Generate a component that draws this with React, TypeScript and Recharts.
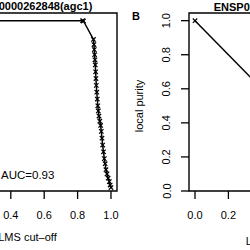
import React from 'react';
import { LineChart, Line, XAxis, YAxis, ReferenceArea } from 'recharts';

const font = '"Liberation Sans", Arial, Helvetica, sans-serif';

// panel A: fraction kept vs LMS cut-off
const leftCutoffs = [0.0, 0.83, 0.835, 0.895, 0.898, 0.9, 0.902, 0.904, 0.906, 0.908, 0.91, 0.912, 0.915, 0.918, 0.921, 0.924, 0.928, 0.933, 0.938, 0.942, 0.946, 0.95, 0.955, 0.96, 0.965, 0.97, 0.976, 0.983, 0.99, 0.995, 1.0];
const leftValues = [1.0, 1.0, 0.998, 0.89, 0.86, 0.83, 0.8, 0.77, 0.74, 0.7, 0.66, 0.62, 0.58, 0.54, 0.5, 0.47, 0.44, 0.41, 0.385, 0.35, 0.31, 0.27, 0.23, 0.19, 0.16, 0.125, 0.1, 0.075, 0.055, 0.035, 0.02];

// panel B: local purity vs LMS cut-off
const rightCutoffs = [0.0, 1.0];
const rightPurity = [1.0, 0.0];

const xTicks = [0, 0.2, 0.4, 0.6, 0.8, 1.0];
const yTicks = [0, 0.2, 0.4, 0.6, 0.8, 1.0];

const leftData = leftCutoffs.map((c, i) => ({ cutoff: c, value: leftValues[i] }));
const rightData = rightCutoffs.map((c, i) => ({ cutoff: c, value: rightPurity[i] }));

const xDomain = [-0.036, 1.036];
const yDomain = [0, 1.045];

const cross = (p: any) => {
  const { cx, cy, index } = p;
  if (cx == null || cy == null) return <g key={index} />;
  const s = 2.2;
  return (
    <path
      key={index}
      d={`M${cx - s},${cy - s}L${cx + s},${cy + s}M${cx - s},${cy + s}L${cx + s},${cy - s}`}
      stroke="#000"
      strokeWidth={1.2}
      fill="none"
    />
  );
};

const RotTick = (props: any) => {
  const { x, y, payload } = props;
  return (
    <text x={x} y={y} transform={`rotate(-90 ${x} ${y})`} textAnchor="middle" fontSize={11} fill="#000" fontFamily={font}>
      {Number(payload.value).toFixed(1)}
    </text>
  );
};

const xAxisProps = {
  dataKey: 'cutoff',
  type: 'number' as const,
  domain: xDomain,
  ticks: xTicks,
  interval: 0 as const,
  allowDataOverflow: true,
  height: 59,
  axisLine: false,
  tickLine: { stroke: '#000', strokeWidth: 1.3 },
  tickSize: 8,
  tickMargin: 12,
  tick: { fontSize: 11, fill: '#000', fontFamily: font },
  tickFormatter: (v: number) => v.toFixed(1),
};

const box = (
  <ReferenceArea x1={xDomain[0]} x2={xDomain[1]} y1={yDomain[0]} y2={yDomain[1]} fill="none" fillOpacity={0} stroke="#000" strokeWidth={1.4} ifOverflow="visible" />
);

export default function App() {
  return (
    <div style={{ position: 'fixed', left: 0, top: 0, width: 250, height: 250, overflow: 'hidden', background: '#fff' }}>
      <div style={{ position: 'absolute', left: -62, top: 0 }}>
        <LineChart width={190} height={250} data={leftData} margin={{ top: 13, right: 11, bottom: 0, left: 0 }}>
          <XAxis {...xAxisProps} />
          <YAxis type="number" domain={yDomain} allowDataOverflow hide />
          {box}
          <Line dataKey="value" stroke="#000" strokeWidth={1.5} dot={cross} isAnimationActive={false} />
        </LineChart>
      </div>
      <div style={{ position: 'absolute', left: 125, top: 0 }}>
        <LineChart width={254} height={250} data={rightData} margin={{ top: 13, right: 11, bottom: 0, left: 0 }}>
          <XAxis {...xAxisProps} />
          <YAxis
            type="number"
            domain={yDomain}
            allowDataOverflow
            ticks={yTicks}
            interval={0}
            width={64}
            axisLine={false}
            tickLine={{ stroke: '#000', strokeWidth: 1.3 }}
            tickSize={8}
            tickMargin={10.5}
            tick={<RotTick />}
          />
          {box}
          <Line dataKey="value" stroke="#000" strokeWidth={1.5} dot={(p: any) => (p.index === 0 ? cross(p) : <g key={p.index} />)} isAnimationActive={false} />
        </LineChart>
      </div>
      <svg width={250} height={250} style={{ position: 'absolute', left: 0, top: 0, pointerEvents: 'none' }} fontFamily={font}>
        <text x={27.5} y={9.5} textAnchor="middle" fontSize={11} fontWeight="bold">ENSP00000262848(agc1)</text>
        <text x={278.5} y={11} textAnchor="middle" fontSize={11} fontWeight="bold">ENSP00000262848(agc1)</text>
        <text x={1} y={178.5} fontSize={11.5}>AUC=0.93</text>
        <text x={27.5} y={241} textAnchor="middle" fontSize={11}>LMS cut–off</text>
        <text x={275} y={245} textAnchor="middle" fontSize={11}>LMS cut–off</text>
        <text x={132} y={20} fontSize={11} fontWeight="bold">B</text>
        <text x={143} y={106} transform="rotate(-90 143 106)" textAnchor="middle" fontSize={11}>local purity</text>
      </svg>
    </div>
  );
}
